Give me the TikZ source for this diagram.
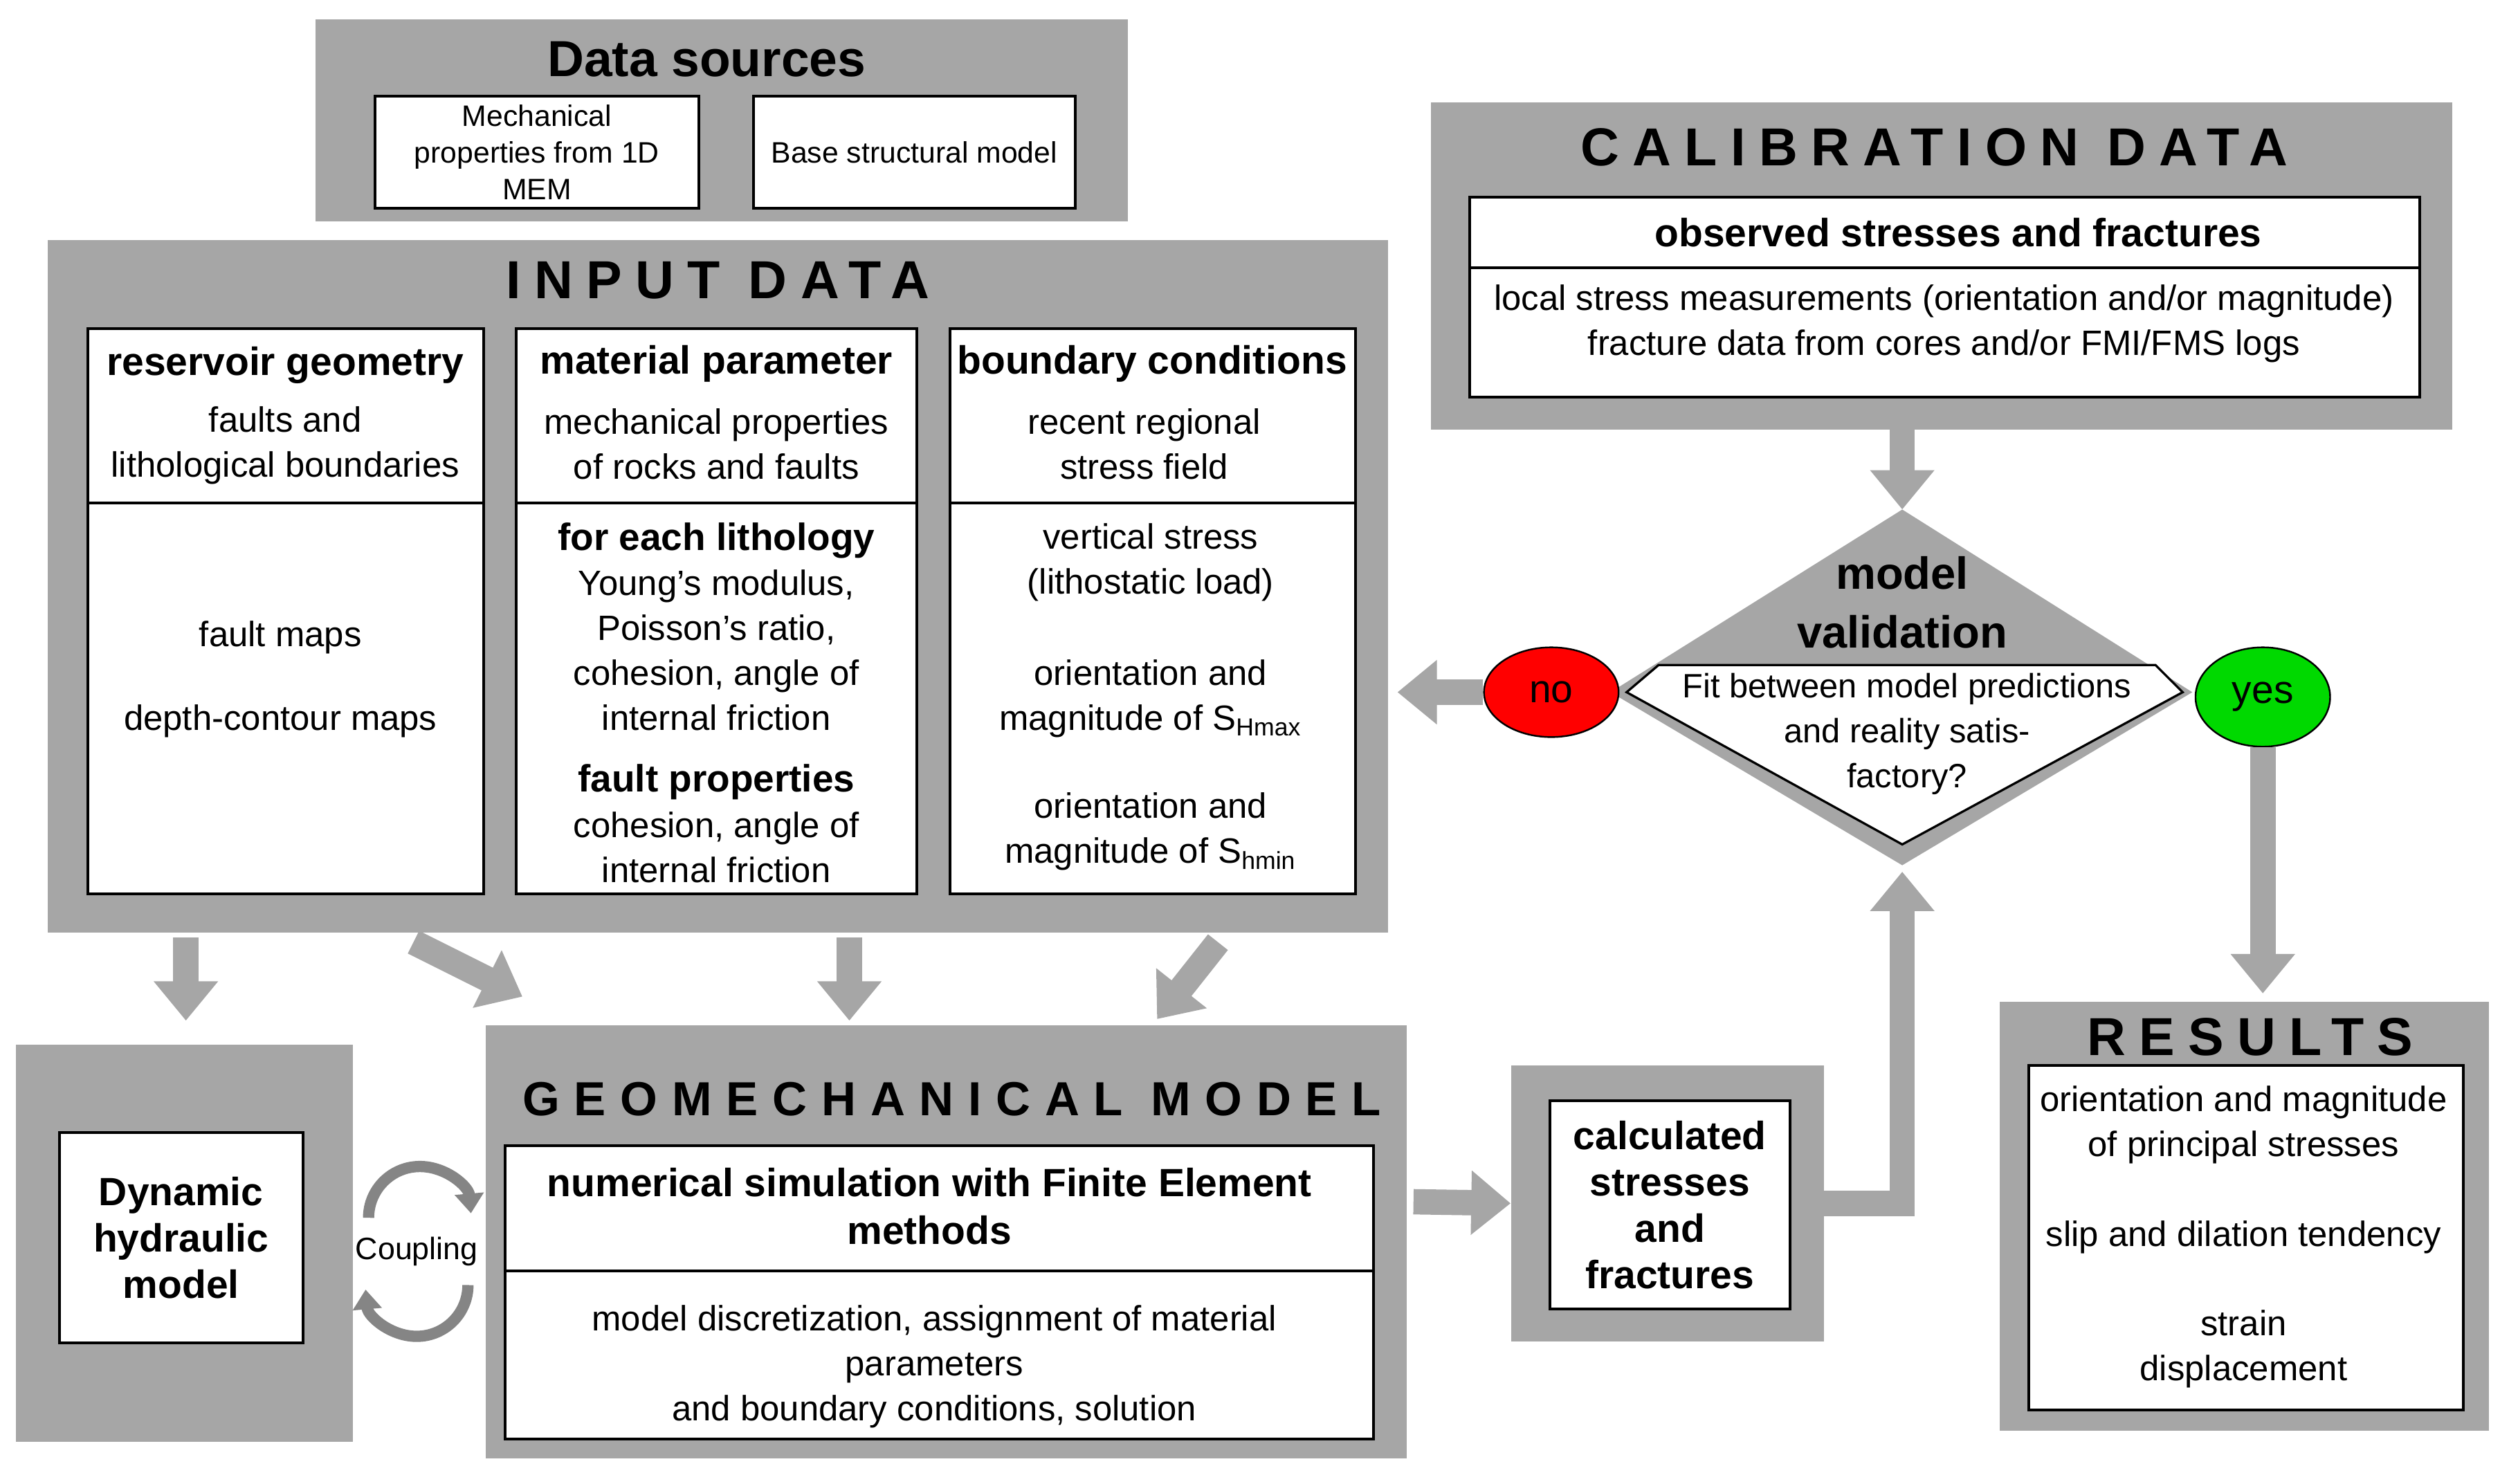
\documentclass[tikz,border=0pt]{standalone}
\usepackage{fontspec}
\setmainfont{Liberation Sans}
\usetikzlibrary{arrows.meta,shapes.geometric,calc}
\definecolor{gb}{HTML}{A6A6A6}
\newcommand\bx[6]{\node[#6, minimum width={(#4-#2)*0.02cm}, minimum height={(#5-#3)*0.02cm}, inner sep=0] (#1) at ({(#2+#4)/2},{(#3+#5)/2}) {};}
\tikzset{
 gray box/.style={rectangle, fill=gb, draw=none},
 white box/.style={rectangle, fill=white, draw=black, line width=1pt},
 txt/.style={align=center, font=\fontsize{12.5}{16}\selectfont, inner sep=0},
 head/.style={align=center, font=\fontsize{14}{17}\selectfont\bfseries, inner sep=0},
 title/.style={align=center, font=\fontsize{19}{22}\selectfont\bfseries\addfontfeature{LetterSpace=25}, inner sep=0},
 big/.style={draw=gb, line width=9pt, -{Triangle[width=22pt,length=14pt]}},
 div/.style={line width=1pt},
}
\begin{document}
\begin{tikzpicture}[x=0.02cm,y=-0.02cm]
\useasboundingbox (0,0) rectangle (1560,926);
% gray boxes
\bx{ds}{197}{12}{704}{138}{gray box}
\bx{inp}{30}{150}{866}{582}{gray box}
\bx{cal}{893}{64}{1530}{268}{gray box}
\bx{geo}{303}{640}{878}{910}{gray box}
\bx{dyn}{10}{652}{220}{900}{gray box}
\bx{calc}{943}{665}{1138}{837}{gray box}
\bx{res}{1248}{625}{1553}{893}{gray box}
% diamond
\fill[gb] (1187,318) -- (1368,432) -- (1187,540) -- (1005,432) -- cycle;
\coordinate (dtop) at (1187,318);
\coordinate (dbot) at (1187,544);
\coordinate (calb) at (1187,268);
\filldraw[fill=white, draw=black, line width=0.8pt] (1015,432) -- (1035,415) -- (1345,415) -- (1362,432) -- (1187,527) -- cycle;
% white boxes
\bx{mem}{234}{60}{436}{130}{white box}
\bx{bsm}{470}{60}{671}{130}{white box}
\bx{c1}{55}{205}{302}{558}{white box}
\bx{c2}{322}{205}{572}{558}{white box}
\bx{c3}{593}{205}{846}{558}{white box}
\draw[div] (55,314) -- (302,314) (322,314) -- (572,314) (593,314) -- (846,314);
\bx{calin}{917}{123}{1510}{248}{white box}
\draw[div] (917,167) -- (1510,167);
\bx{geoin}{315}{715}{857}{898}{white box}
\draw[div] (315,793) -- (857,793);
\bx{dynin}{37}{707}{189}{838}{white box}
\bx{calcin}{967}{687}{1117}{817}{white box}
\bx{resin}{1266}{665}{1537}{880}{white box}
% texts
\node[align=center, font=\fontsize{18}{20}\selectfont\bfseries, inner sep=0] at (441,37) {Data sources};
\node[txt, font=\fontsize{10.5}{13}\selectfont] at (mem) {Mechanical\\properties from 1D\\MEM};
\node[txt, font=\fontsize{10.5}{13}\selectfont] at (bsm) {Base structural model};
\node[title] at (448,175) {INPUT DATA};
\node[head] at (178,228) {reservoir geometry};
\node[txt] at (178,278) {faults and\\lithological boundaries};
\node[txt] at (175,424) {fault maps\\[1.1em]depth-contour maps};
\node[head] at (447,227) {material parameter};
\node[txt] at (447,277) {mechanical properties\\of rocks and faults};
\node[txt] at (447,391) {\textbf{\fontsize{13.5}{16}\selectfont for each lithology}\\Young’s modulus,\\Poisson’s ratio,\\cohesion, angle of\\internal friction};
\node[txt] at (447,514) {\textbf{\fontsize{13.5}{16}\selectfont fault properties}\\cohesion, angle of\\internal friction};
\node[head] at (719,227) {boundary conditions};
\node[txt] at (714,277) {recent regional\\stress field};
\node[txt] at (718,351) {vertical stress\\(lithostatic load)};
\node[txt] at (718,436) {orientation and\\magnitude of S$_{\mathrm{Hmax}}$};
\node[txt] at (718,519) {orientation and\\magnitude of S$_{\mathrm{hmin}}$};
\node[title] at (1207,92) {CALIBRATION DATA};
\node[head] at (1222,145) {observed stresses and fractures};
\node[txt] at (1213,202) {local stress measurements (orientation and/or magnitude)\\fracture data from cores and/or FMI/FMS logs};
\node[align=center, font=\fontsize{16}{21}\selectfont\bfseries, inner sep=0] at (1187,376) {model\\validation};
\node[txt, font=\fontsize{12}{16}\selectfont] at (1190,458) {Fit between model predictions\\and reality satis-\\factory?};
\node[ellipse, fill=red, draw=black, line width=0.6pt, minimum width=84*0.02cm, minimum height=56*0.02cm, inner sep=0, font=\fontsize{14}{16}\selectfont] (no) at (968,432) {no};
\node[ellipse, fill=green!85!black, draw=black, line width=0.6pt, minimum width=84*0.02cm, minimum height=62*0.02cm, inner sep=0, font=\fontsize{14}{16}\selectfont] (yes) at (1412,435) {yes};
\node[title, font=\fontsize{17}{20}\selectfont\bfseries\addfontfeature{LetterSpace=30}] at (594,686) {GEOMECHANICAL MODEL};
\node[head] at (580,753) {numerical simulation with Finite Element\\methods};
\node[txt] at (583,853) {model discretization, assignment of material\\parameters\\and boundary conditions, solution};
\node[align=center, font=\fontsize{14}{16.5}\selectfont\bfseries, inner sep=0] at (dynin) {Dynamic\\hydraulic\\model};
\node[align=center, font=\fontsize{14}{16.5}\selectfont\bfseries, inner sep=0] at (calcin) {calculated\\stresses\\and\\fractures};
\node[title] at (1404,647) {RESULTS};
\node[txt] at (1400,702) {orientation and magnitude\\of principal stresses};
\node[txt] at (1400,772) {slip and dilation tendency};
\node[txt] at (1400,842) {strain\\displacement};
\node[txt, font=\fontsize{11}{13}\selectfont] (coup) at (260,781) {Coupling};
% arrows
\coordinate (a1) at (116,585); \coordinate (a1e) at (116,637);
\coordinate (a2) at (258,588); \coordinate (a2e) at (326,622);
\coordinate (a3) at (530,585); \coordinate (a3e) at (530,637);
\coordinate (a4) at (760,588); \coordinate (a4e) at (722,636);
\coordinate (g1) at (882,750);
\draw[big] (a1) -- (a1e);
\draw[big] (a2) -- (a2e);
\draw[big] (a3) -- (a3e);
\draw[big] (a4) -- (a4e);
\draw[big] (calb) -- (dtop);
\draw[big] (no.west) -- (872,432);
\draw[big] (yes.south) -- (1412,620);
\draw[big] (calc.east) -- (1187,751) -- (dbot);
\draw[big] (g1) -- (calc.west);
% coupling arrows
\draw[gb!80!black, line width=4pt, -{Triangle[width=10pt,length=7pt]}] (230,760) arc[start angle=180, end angle=5, x radius=32, y radius=-32];
\draw[gb!80!black, line width=4pt, -{Triangle[width=10pt,length=7pt]}] (292,802) arc[start angle=0, end angle=-175, x radius=32, y radius=-32];
\end{tikzpicture}
\end{document}
